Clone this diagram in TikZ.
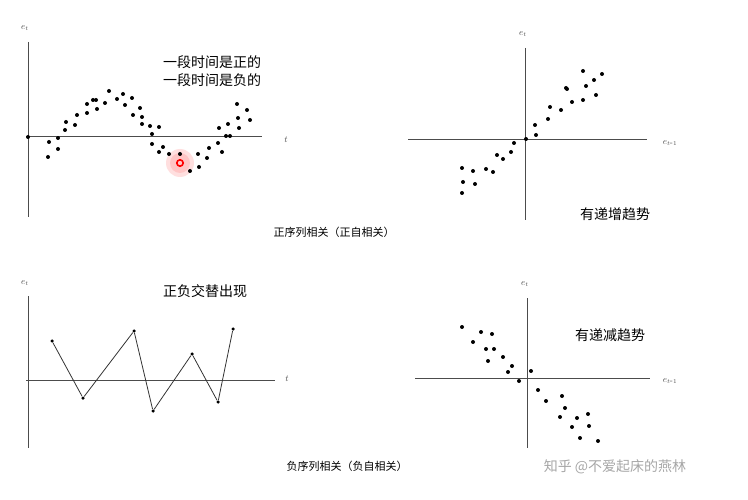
\documentclass[tikz,border=0pt]{standalone}
\usepackage{fontspec}
\newfontfamily\cjk{Noto Sans CJK SC}
\begin{document}
\begin{tikzpicture}[x=1pt,y=-1pt,
  ax/.style={draw=black!70,line width=1pt},
  dt/.style={fill=black,circle,inner sep=0pt,minimum size=4pt},
  lab/.style={font=\small,text=black!70},
  captxt/.style={font=\cjk\fontsize{11}{13}\selectfont},
  big/.style={font=\cjk\fontsize{14}{18}\selectfont,align=left}]
\useasboundingbox (0,0) rectangle (748,500);
% panel 1
\coordinate (a1) at (28,42); \coordinate (a2) at (28,217);
\coordinate (b1) at (26,137); \coordinate (b2) at (262,137);
\draw[ax] (a1)--(a2); \draw[ax] (b1)--(b2);
\node[lab] (l1) at (25,28) {$e_t$};
\node[lab] (l2) at (286,140) {$t$};
\node[big] (t1) at (212,71) {一段时间是正的\\一段时间是负的};
\fill[red!40,opacity=0.5] (180,163) circle (10);
\fill[red!25,opacity=0.5] (180,163) circle (14);
\foreach \p in {(28,137),(48,157),(49,142),(58,149),(58,138),(65,130),(66,122),(75,125),(77,115),(87,113),(87,104),(93,100),(96,100),(97,109),(105,103),(109,91),(117,99),(123,94),(125,105),(132,98),(133,115),(140,108),(142,117),(142,124),(150,126),(152,134),(159,127),(152,144),(159,152),(163,147),(169,154),(180,154),(190,171),(198,154),(199,167),(207,158),(209,148),(218,143),(222,152),(219,128),(228,124),(226,136),(230,136),(237,104),(238,118),(239,128),(247,110),(250,120)}
  \node[dt] at \p {};
\draw[red,line width=1.6pt] (180,163) circle (3.2);
\node[captxt] (c1) at (334,232) {正序列相关（正自相关）};
% panel 2
\coordinate (c21) at (525,48); \coordinate (c22) at (525,220);
\coordinate (d21) at (408,140); \coordinate (d22) at (647,140);
\draw[ax] (c21)--(c22); \draw[ax] (d21)--(d22);
\node[lab] (l3) at (523,34) {$e_t$};
\node[lab] (l4) at (670,143) {$e_{t\mbox{-}1}$};
\foreach \p in {(462,168),(463,182),(462,193),(473,171),(475,184),(486,169),(493,172),(497,155),(503,159),(511,152),(514,143),(526,139),(536,135),(535,125),(548,119),(550,107),(561,110),(566,88),(567,89),(572,102),(583,100),(583,71),(586,86),(594,80),(596,95),(602,74)}
  \node[dt] at \p {};
\node[big] (t2) at (615,214) {有递增趋势};
% panel 3
\coordinate (e1) at (28,296); \coordinate (e2) at (28,448);
\coordinate (f1) at (26,380); \coordinate (f2) at (275,380);
\draw[ax] (e1)--(e2); \draw[ax] (f1)--(f2);
\node[lab] (l5) at (25,283) {$e_t$};
\node[lab] (l6) at (287,379) {$t$};
\node[big] (t3) at (205,291) {正负交替出现};
\node[dt,minimum size=3.5pt] (z1) at (52,341) {};
\node[dt,minimum size=3.5pt] (z2) at (83,398) {};
\node[dt,minimum size=3.5pt] (z3) at (134,331) {};
\node[dt,minimum size=3.5pt] (z4) at (153,411) {};
\node[dt,minimum size=3.5pt] (z5) at (192,354) {};
\node[dt,minimum size=3.5pt] (z6) at (218,402) {};
\node[dt,minimum size=3.5pt] (z7) at (233,329) {};
\draw[black!80,line width=0.8pt] (z1)--(z2)--(z3)--(z4)--(z5)--(z6)--(z7);
\node[captxt] (c2) at (347,466) {负序列相关（负自相关）};
% panel 4
\coordinate (g1) at (527,298); \coordinate (g2) at (527,448);
\coordinate (h1) at (415,378); \coordinate (h2) at (650,378);
\draw[ax] (g1)--(g2); \draw[ax] (h1)--(h2);
\node[lab] (l7) at (525,284) {$e_t$};
\node[lab] (l8) at (670,381) {$e_{t\mbox{-}1}$};
\foreach \p in {(462,327),(481,332),(492,334),(473,342),(486,349),(494,349),(488,361),(503,357),(512,366),(508,372),(531,371),(519,381),(538,390),(546,401),(562,396),(565,408),(560,417),(577,418),(588,414),(589,426),(572,427),(580,438),(598,441)}
  \node[dt] at \p {};
\node[big] (t4) at (610,335) {有递减趋势};
\node[font=\cjk\fontsize{14}{16}\selectfont,text=black!35] (w) at (615,467) {知乎 @不爱起床的燕林};
\end{tikzpicture}
\end{document}
